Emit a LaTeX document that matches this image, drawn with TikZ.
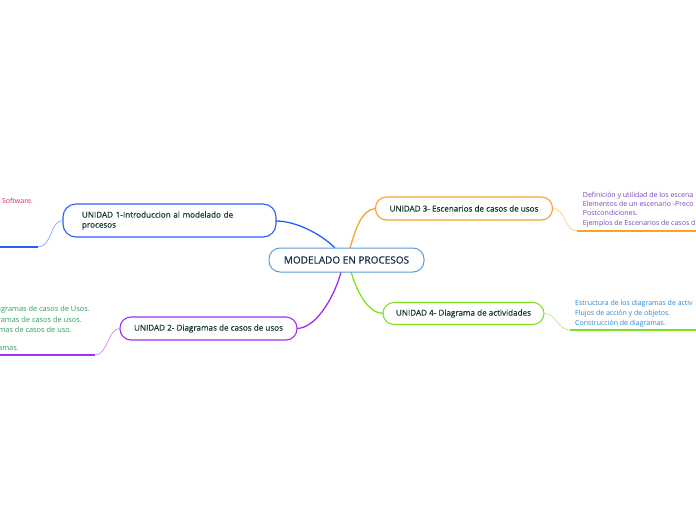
\documentclass[tikz,border=0pt]{standalone}
\usepackage{fontspec}
\setmainfont{Open Sans}
\newfontfamily\hubfont{Open Sans}[FakeBold=0.8]
\newfontfamily\unitfont{Open Sans}[FakeBold=0.35]
\definecolor{hubc}{HTML}{5B9BD5}
\definecolor{hubtext}{HTML}{1C2B4A}
\definecolor{unittext}{HTML}{12372E}
\definecolor{uonec}{HTML}{2C5BFF}
\definecolor{uonet}{HTML}{8AA4FF}
\definecolor{utwoc}{HTML}{A030F0}
\definecolor{utwot}{HTML}{CC8CF5}
\definecolor{uthreec}{HTML}{F9A32A}
\definecolor{uthreet}{HTML}{FBCB80}
\definecolor{ufourc}{HTML}{7FE31C}
\definecolor{ufourt}{HTML}{B5F075}
\definecolor{redc}{HTML}{D8284A}
\definecolor{greenc}{HTML}{2AA05C}
\definecolor{purplec}{HTML}{7A45B5}
\definecolor{bluec}{HTML}{2A86CF}
\begin{document}
\begin{tikzpicture}[x=1pt,y=-1pt,
 hub/.style={draw=hubc, line width=1pt, fill=white, rounded corners=11pt, minimum width=155pt, minimum height=24pt, inner sep=0pt, font=\hubfont\fontsize{10}{12}\selectfont, text=hubtext},
 unit/.style={fill=white, line width=1.1pt, rounded corners=11pt, inner sep=0pt, minimum height=23pt, font=\unitfont\fontsize{8.1}{10}\selectfont, text=unittext},
 leaf/.style={inner sep=0pt, font=\fontsize{7}{8}\selectfont},
 link/.style={line width=1.3pt},
 twig/.style={line width=0.7pt},
 rulel/.style={line width=1.8pt}]
\useasboundingbox (0,0) rectangle (696,520);
\clip (0,0) rectangle (696,520);
\fill[white] (0,0) rectangle (696,520);

\coordinate (c1) at (335,248);
\coordinate (c3) at (350,248);
\coordinate (c2) at (341,272);
\coordinate (c4) at (351,272);

\draw[link, uonec] (c1) .. controls (320,233) and (295,221) .. (276,221);
\draw[link, uthreec] (c3) .. controls (356,228) and (362,209) .. (376,208.5);
\draw[link, utwoc] (c2) .. controls (336,292) and (318,328) .. (297,328.5);
\draw[link, ufourc] (c4) .. controls (357,292) and (368,313) .. (383,313.5);

\node[hub] (c) at (346.5,260) {MODELADO EN PROCESOS};
\node[unit, draw=uonec, minimum height=33pt, rounded corners=13pt, text width=175pt, align=left, inner xsep=19pt] (u1) at (169.5,220.5) {UNIDAD 1-Introduccion al modelado de\\procesos};
\node[unit, draw=utwoc, minimum width=177pt] (u2) at (208.5,328.5) {UNIDAD 2- Diagramas de casos de usos};
\node[unit, draw=uthreec, minimum width=177pt] (u3) at (464,208.5) {UNIDAD 3- Escenarios de casos de usos};
\node[unit, draw=ufourc, minimum width=161pt, minimum height=22pt] (u4) at (463.5,313.5) {UNIDAD 4- Diagrama de actividades};

\coordinate (e1) at (38,247);
\coordinate (f1) at (0,247);
\coordinate (e2) at (95,355);
\coordinate (f2) at (0,355);
\coordinate (e3) at (577,231);
\coordinate (f3) at (696,231);
\coordinate (e4) at (570,330);
\coordinate (f4) at (696,330);

\draw[twig, uonet] (u1.west) .. controls (50,221) and (52,247) .. (e1);
\draw[rulel, uonec] (e1) -- (f1);
\draw[twig, utwot] (u2.west) .. controls (108,328.5) and (108,355) .. (e2);
\draw[rulel, utwoc] (e2) -- (f2);
\draw[twig, uthreet] (u3.east) .. controls (565,208.5) and (565,231) .. (e3);
\draw[rulel, uthreec] (e3) -- (f3);
\draw[twig, ufourt] (u4.east) .. controls (556,313.5) and (558,330) .. (e4);
\draw[rulel, ufourc] (e4) -- (f4);

\node[leaf, text=redc, anchor=mid east] (r1) at (33,201) {Software.};

\node[leaf, text=greenc, anchor=mid east, font=\fontsize{7.4}{8}\selectfont] (g1) at (90,309.3) {agramas de casos de Usos.};
\node[leaf, text=greenc, anchor=mid east, font=\fontsize{7.4}{8}\selectfont] (g2) at (82,319.5) {gramas de casos de usos.};
\node[leaf, text=greenc, anchor=mid east, font=\fontsize{7.4}{8}\selectfont] (g3) at (72,330) {amas de casos de uso.};
\node[leaf, text=greenc, anchor=mid east, font=\fontsize{7.4}{8}\selectfont] (g4) at (19,348.3) {ramas.};

\node[leaf, text=purplec, anchor=mid west] (p1) at (582.7,194.7) {Definición y utilidad de los escena};
\node[leaf, text=purplec, anchor=mid west] (p2) at (582.7,204) {Elementos de un escenario -Preco};
\node[leaf, text=purplec, anchor=mid west] (p3) at (582.7,213.3) {Postcondiciones.};
\node[leaf, text=purplec, anchor=mid west] (p4) at (582.7,222.7) {Ejemplos de Escenarios de casos d};

\node[leaf, text=bluec, anchor=mid west] (b1) at (575,303.3) {Estructura de los diagramas de activ};
\node[leaf, text=bluec, anchor=mid west] (b2) at (575,312.7) {Flujos de acción y de objetos.};
\node[leaf, text=bluec, anchor=mid west] (b3) at (575,322.7) {Construcción de diagramas.};
\end{tikzpicture}
\end{document}
